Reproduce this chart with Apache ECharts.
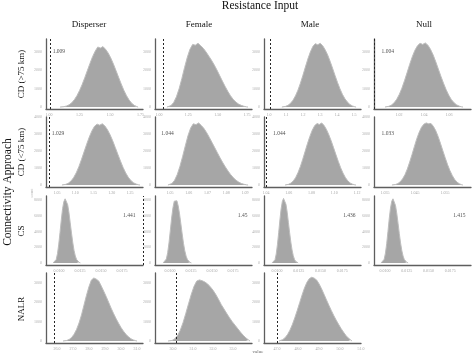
<!DOCTYPE html>
<html><head><meta charset="utf-8">
<script src="https://cdn.jsdelivr.net/npm/echarts@6/dist/echarts.min.js"></script>
<style>html,body{margin:0;padding:0;background:#fff}#c{width:474px;height:356px}</style>
</head><body><div id="c"></div>
<script>
// ---------- data ----------
const colNames = ['Disperser', 'Female', 'Male', 'Null'];
const rowNames = ['CD (>75 km)', 'CD (<75 km)', 'CS', 'NALR'];

// histogram counts
const cdFar_disperser = [5,20,55,120,230,400,620,900,1230,1600,1990,2380,2750,3050,3280,3220,3300,3150,2950,2680,2350,1990,1620,1260,920,630,390,210,90,25];
const cdFar_female = [15,80,250,560,1000,1550,2150,2700,3150,3420,3380,3480,3350,3200,3000,2780,2550,2300,2020,1720,1420,1130,860,620,420,270,160,90,40,10];
const cdFar_male = [10,35,95,200,370,610,920,1300,1730,2180,2620,3000,3300,3460,3400,3480,3350,3130,2850,2500,2120,1720,1340,990,690,450,270,140,60,15];
const cdFar_null = [10,40,110,230,420,690,1030,1440,1880,2330,2750,3100,3350,3480,3420,3500,3380,3150,2850,2480,2080,1680,1300,950,650,410,240,120,50,12];

const cdNear_disperser = [10,40,110,240,440,720,1080,1500,1950,2400,2820,3180,3450,3580,3520,3600,3470,3250,2950,2600,2200,1800,1400,1030,710,450,260,130,55,15];
const cdNear_female = [15,90,280,620,1100,1680,2300,2900,3350,3600,3550,3650,3500,3320,3080,2800,2500,2200,1900,1600,1320,1060,820,610,430,280,170,90,40,10];
const cdNear_male = [10,40,110,240,440,730,1090,1520,1980,2440,2860,3220,3480,3620,3560,3650,3500,3270,2960,2600,2200,1790,1390,1020,700,440,250,120,50,12];
const cdNear_null = [8,30,85,190,360,610,940,1350,1800,2270,2720,3100,3400,3580,3650,3600,3620,3450,3200,2860,2450,2020,1600,1200,850,560,330,170,70,18];

const cs_disperser = [20,120,450,1200,2400,3900,5500,6900,7800,8150,8000,7400,6400,5100,3800,2600,1600,900,450,200,80,25];
const cs_female = [25,140,500,1300,2550,4100,5700,7000,7850,8100,7900,7250,6250,5000,3700,2500,1550,870,430,190,75,20];
const cs_male = [20,110,420,1150,2350,3850,5450,6850,7800,8200,8050,7450,6450,5150,3850,2650,1650,930,460,200,80,25];
const cs_null = [22,130,470,1250,2450,4000,5600,6950,7850,8150,7950,7300,6300,5050,3750,2550,1580,880,440,195,78,22];

const nalr_disperser = [5,25,80,180,350,600,930,1350,1850,2350,2800,3150,3260,3200,3100,2850,2580,2300,2000,1700,1420,1160,920,700,510,350,220,120,55,15];
const nalr_female = [5,30,110,280,560,950,1420,1920,2400,2820,3100,3160,3120,3050,2950,2800,2620,2400,2150,1880,1650,1420,1200,1000,820,640,460,300,160,50];
const nalr_male = [20,70,170,330,560,850,1200,1580,1980,2380,2750,3040,3230,3300,3250,3150,2950,2700,2420,2130,1850,1580,1320,1080,860,650,460,290,150,50];

const countsByRow = [
  [cdFar_disperser, cdFar_female, cdFar_male, cdFar_null],
  [cdNear_disperser, cdNear_female, cdNear_male, cdNear_null],
  [cs_disperser, cs_female, cs_male, cs_null],
  [nalr_disperser, nalr_female, nalr_male]
];

// histogram bin ranges [lo, hi]
const binRangeByRow = [
  [[1.090,1.730],[1.068,1.759],[1.076,1.512],[1.0088,1.0712]],
  [[1.0637,1.2775],[1.0489,1.0916],[1.0567,1.1191],[1.0373,1.0610]],
  [[0.00929,0.01262],[0.00917,0.01262],[0.00942,0.0125],[0.00954,0.01273]],
  [[26.375,31.0],[29.75,33.85],[47.095,50.57]]
];

// observed values (dashed lines) and their annotations
const observedByRow = [
  [1.009, 1.043, 1.006, 1.004],
  [1.029, 1.044, 1.044, 1.033],
  [0.0194, 0.01952, 0.01933, 0.01956],
  [25.81, 30.15, 47.0]
];
const obsLabelByRow = [
  ['1.009', '', '', '1.004'],
  ['1.029', '1.044', '1.044', '1.033'],
  ['1.441', '1.45', '1.436', '1.415'],
  ['', '', '']
];

// x axis ranges and ticks
const xRangeByRow = [
  [[0.975,1.770],[0.966,1.793],[0.971,1.541],[1.000,1.0776]],
  [[1.0199,1.2857],[1.042,1.0937],[1.0382,1.1235],[1.0313,1.0637]],
  [[0.00845,0.0200],[0.00821,0.01976],[0.0085,0.01967],[0.00873,0.0199]],
  [[25.3125,31.375],[29.1,33.95],[46.381,51.0]]
];
const xTicksByRow = [
  [[1.00,1.25,1.50,1.75],[1.00,1.25,1.50,1.75],[1.0,1.1,1.2,1.3,1.4,1.5],[1.02,1.04,1.06]],
  [[1.05,1.10,1.15,1.20,1.25],[1.05,1.06,1.07,1.08,1.09],[1.04,1.06,1.08,1.10,1.12],[1.035,1.045,1.055]],
  [[0.0100,0.0125,0.0150,0.0175],[0.0100,0.0125,0.0150,0.0175],[0.0100,0.0125,0.0150,0.0175],[0.0100,0.0125,0.0150,0.0175]],
  [[26,27,28,29,30,31],[30,31,32,33],[47,48,49,50,51]]
];
const xDecimalsByRow = [[2,2,1,2],[2,2,2,3],[4,4,4,4],[1,1,1]];

// y axis (count) ranges and ticks per row
const yRangeByRow = [[-109,3716],[-118,4000],[-254,8508],[-104,3518]];
const yTicksByRow = [[0,1000,2000,3000],[0,1000,2000,3000,4000],[0,2000,4000,6000,8000],[0,1000,2000,3000]];
const labelCountByRow = [3050, 3000, 6000, 0];

// ---------- layout ----------
const colLeft = [46, 155, 264, 374];
const rowTop = [39, 117, 196, 273];
const panelW = 97, panelH = [70, 70, 69, 70];
const SERIF = '"Liberation Serif", "DejaVu Serif", serif';
const histColor = '#a6a6a6';

const grids = [], xAxes = [], yAxes = [], series = [];
let gi = 0;
for (let r = 0; r < countsByRow.length; r++) {
  for (let c = 0; c < countsByRow[r].length; c++) {
    grids.push({ left: colLeft[c], top: rowTop[r], width: panelW, height: panelH[r] });
    const dec = xDecimalsByRow[r][c];
    xAxes.push({
      type: 'value', gridIndex: gi,
      min: xRangeByRow[r][c][0], max: xRangeByRow[r][c][1],
      splitLine: { show: false },
      axisLine: { onZero: false, lineStyle: { color: '#5e5e5e', width: 1.3 } },
      axisTick: { show: false, customValues: xTicksByRow[r][c] },
      axisLabel: { customValues: xTicksByRow[r][c], fontSize: 4, color: '#a6a6a6', margin: 4,
        fontFamily: SERIF, formatter: v => Number(v).toFixed(dec), hideOverlap: false }
    });
    yAxes.push({
      type: 'value', gridIndex: gi,
      min: yRangeByRow[r][0], max: yRangeByRow[r][1],
      splitLine: { show: false },
      axisLine: { show: true, onZero: false, lineStyle: { color: '#5e5e5e', width: 1.3 } },
      axisTick: { show: false, customValues: yTicksByRow[r] },
      axisLabel: { customValues: yTicksByRow[r], fontSize: 4, color: '#b0b0b0', margin: 4, fontFamily: SERIF,
        formatter: v => String(v) }
    });
    const counts = countsByRow[r][c];
    const [lo, hi] = binRangeByRow[r][c];
    const w = (hi - lo) / counts.length;
    const pts = [[lo, 0]].concat(counts.map((v, i) => [lo + (i + 0.5) * w, v])).concat([[hi, 0]]);
    series.push({
      type: 'line', xAxisIndex: gi, yAxisIndex: gi, data: pts,
      showSymbol: false, silent: true,
      lineStyle: { width: 1, color: '#bdbdbd' },
      areaStyle: { color: histColor, opacity: 1 },
      markLine: {
        silent: true, symbol: ['none', 'none'], label: { show: false },
        lineStyle: { color: '#262626', width: 1, type: [2, 2] },
        data: [{ xAxis: observedByRow[r][c] }]
      }
    });
    const lab = obsLabelByRow[r][c];
    if (lab) {
      series.push({
        type: 'scatter', xAxisIndex: gi, yAxisIndex: gi, silent: true,
        data: [[observedByRow[r][c], labelCountByRow[r]]],
        symbol: 'circle', symbolSize: 1, itemStyle: { color: 'rgba(0,0,0,0)' },
        label: { show: true, position: r === 2 ? 'left' : 'right', distance: 2,
          formatter: lab, fontSize: 5.5, color: '#222', fontFamily: SERIF },
        z: 10
      });
    }
    gi++;
  }
}

const colCenter = [89, 199, 310, 424];
const rowCenter = [74, 152, 231, 309];
const graphic = [
  { type: 'text', x: 260, y: 6, style: { text: 'Resistance Input', font: '11.5px ' + SERIF, fill: '#111', align: 'center', verticalAlign: 'middle' } },
  { type: 'text', x: 8, y: 192, rotation: Math.PI / 2, style: { text: 'Connectivity Approach', font: '11.5px ' + SERIF, fill: '#111', align: 'center', verticalAlign: 'middle' } },
  { type: 'text', x: 32, y: 193, rotation: Math.PI / 2, style: { text: 'count', font: '4px ' + SERIF, fill: '#b5b5b5', align: 'center', verticalAlign: 'middle' } },
  { type: 'text', x: 258, y: 352, style: { text: 'value', font: '5px ' + SERIF, fill: '#666', align: 'center', verticalAlign: 'middle' } }
];
colNames.forEach((n, i) => graphic.push({ type: 'text', x: colCenter[i], y: 25, style: { text: n, font: '9px ' + SERIF, fill: '#111', align: 'center', verticalAlign: 'middle' } }));
rowNames.forEach((n, i) => graphic.push({ type: 'text', x: 22, y: rowCenter[i], rotation: Math.PI / 2, style: { text: n, font: '9px ' + SERIF, fill: '#111', align: 'center', verticalAlign: 'middle' } }));

const chart = echarts.init(document.getElementById('c'), null, { renderer: 'canvas' });
chart.setOption({
  animation: false,
  backgroundColor: '#ffffff',
  grid: grids, xAxis: xAxes, yAxis: yAxes, series: series, graphic: graphic
});
</script></body></html>
